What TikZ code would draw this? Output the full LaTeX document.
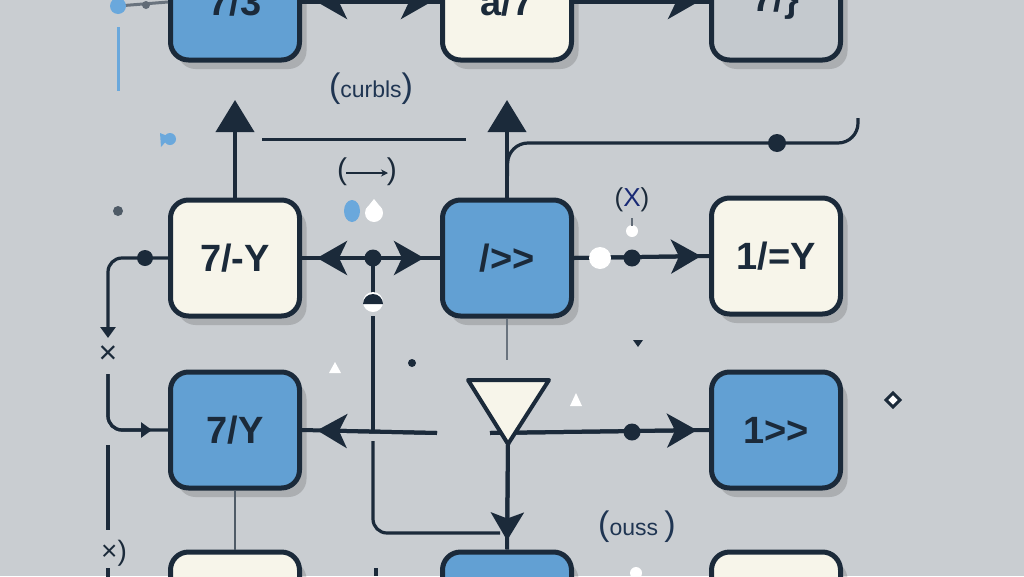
\documentclass[tikz,border=0pt]{standalone}
\usepackage{fontspec}
\setmainfont{Liberation Sans}
\usetikzlibrary{arrows.meta,shadows}
\definecolor{bg}{HTML}{C9CDD1}
\definecolor{navy}{HTML}{1B2A3A}
\definecolor{boxblue}{HTML}{62A0D3}
\definecolor{cream}{HTML}{F7F5EA}
\definecolor{boxgray}{HTML}{C4C9CE}
\definecolor{lblue}{HTML}{6AA8DC}
\definecolor{lbltxt}{HTML}{1F3552}
\newcommand{\gt}{>\kern0pt}
\begin{document}
\begin{tikzpicture}[x=1pt,y=-1pt,
  box/.style={draw=navy, line width=5pt, rounded corners=18pt, minimum width=129pt, minimum height=116pt, inner sep=0pt, font=\fontsize{38}{40}\selectfont\bfseries, text=navy, drop shadow={shadow xshift=7pt, shadow yshift=-9pt, opacity=0.15, fill=black}},
  wire/.style={draw=navy, line width=4pt},
  thinwire/.style={draw=navy, line width=3.2pt},
  bigtip/.tip={Stealth[length=30pt,width=34pt,inset=8pt]},
  uptip/.tip={Triangle[length=32pt,width=38pt]},
  smalltip/.tip={Triangle[length=11pt,width=15pt]},
  jdot/.style={circle, fill=navy, minimum size=17pt, inner sep=0pt},
  lbl/.style={text=lbltxt, font=\fontsize{23}{25}\selectfont},
  par/.style={font=\fontsize{30}{32}\selectfont, text=navy}
]
\fill[bg] (0,0) rectangle (1024,576);
\useasboundingbox (0,0) rectangle (1024,576);

% ---------- boxes ----------
\node[box, fill=boxblue] (B1) at (235,2) {7/3};
\node[box, fill=cream]   (B2) at (507,2) {a/7};
\node[box, fill=boxgray] (B3) at (776,2) {7/\}};
\node[box, fill=cream]   (B4) at (235,258) {7/-Y};
\node[box, fill=boxblue] (B5) at (507,258) {/\gt\gt};
\node[box, fill=cream]   (B6) at (776,256) {1/=Y};
\node[box, fill=boxblue] (B7) at (235,430) {7/Y};
\node[box, fill=boxblue] (B8) at (776,430) {1\gt\gt};
\node[box, fill=cream]   (B9) at (235,610) {};
\node[box, fill=boxblue] (B10) at (507,610) {};
\node[box, fill=cream]   (B11) at (776,610) {};

% ---------- top row ----------
\draw[wire] (B1.east) -- (B2.west);
\draw[wire, {bigtip}-{bigtip}, shorten <=15pt, shorten >=9pt] (B1.east) -- (B2.west);
\draw[wire] (B2.east) -- (B3.west);
\draw[wire, -{bigtip}, shorten >=11pt] (B2.east) -- (B3.west);

% top-left marks
\coordinate (TLd) at (118,6);
\draw[line width=3pt, draw=navy!55!bg] (TLd) -- (B1.west);
\fill[navy!60!bg] (146,5) circle (4);
\fill[lblue] (TLd) circle (8);
\draw[line width=3pt, draw=lblue] (118,27) -- (118,91);

% ---------- up arrows ----------
\coordinate (U4) at (235,100);
\coordinate (U5) at (507,100);
\draw[wire, -{uptip}] (B4.north) -- (U4);
\draw[wire, -{uptip}] (B5.north) -- (U5);

% loop from B5 to the right
\coordinate (C1) at (508,143);
\coordinate (C2) at (858,143);
\coordinate (C3) at (858,118);
\draw[thinwire, rounded corners=20pt] (B5.north) -- (C1) -- (C2) -- (C3);
\node[jdot, minimum size=18pt] (Cd) at (777,143) {};

% thin horizontal line
\coordinate (H1) at (262,139);
\coordinate (H2) at (466,139);
\draw[line width=3pt, draw=navy] (H1) -- (H2);

% labels
\node[lbl] (lab1) at (371,89) {{\fontsize{34}{36}\selectfont(}curbls{\fontsize{34}{36}\selectfont)}};
\node[par] (lab2) at (367,172) {(\hspace{40pt})};
\coordinate (A1) at (346,173);
\coordinate (A2) at (388,173);
\draw[line width=2.6pt, draw=navy, -{Stealth[length=7pt,width=7pt]}] (A1) -- (A2);
\node[par, font=\fontsize{26}{28}\selectfont] (lab3) at (632,200) {(\textcolor{lbltxt!80!blue}{X})};
\node[lbl] (lab4) at (637,527) {{\fontsize{34}{36}\selectfont(}ouss {\fontsize{34}{36}\selectfont)}};
\node[text=navy, font=\fontsize{32}{34}\selectfont] (lab5) at (108,355) {×};
\node[text=navy, font=\fontsize{28}{30}\selectfont] (lab6) at (114,553) {×)};

% ---------- middle row ----------
\coordinate (J) at (373,258);
\draw[wire] (B4.east) -- (B5.west);
\draw[wire, {bigtip}-{bigtip}, shorten <=15pt, shorten >=16pt] (B4.east) -- (B5.west);
\coordinate (J2) at (373,294);
\coordinate (J3) at (373,316);
\coordinate (J4) at (373,433);
\draw[thinwire] (J) -- (J2);
\draw[thinwire] (J3) -- (J4);
\node[jdot] (Jd) at (J) {};
\fill[white] (373,302) circle (10);
\fill[navy] (363,304) arc[start angle=180, end angle=360, radius=10] -- cycle;

% left loop
\coordinate (L1) at (108,258);
\coordinate (L2) at (108,338);
\draw[thinwire, rounded corners=14pt, -{smalltip}] (B4.west) -- (L1) -- (L2);
\node[jdot, minimum size=16pt] (Ld) at (145,258) {};
\coordinate (L3) at (108,374);
\coordinate (L4) at (108,430);
\draw[thinwire, rounded corners=14pt] (L3) -- (L4) -- (B7.west);
\draw[thinwire, rounded corners=14pt, -{smalltip}, shorten >=16pt] (L3) -- (L4) -- (B7.west);
\coordinate (L5) at (108,445);
\coordinate (L6) at (108,530);
\draw[thinwire] (L5) -- (L6);
\coordinate (L7) at (108,568);
\coordinate (L8) at (108,580);
\draw[thinwire] (L7) -- (L8);

% B5 to B6
\draw[wire] (B5.east) -- (B6.west);
\draw[wire, -{bigtip}, shorten >=8pt] (B5.east) -- (B6.west);
\node[jdot] (Rd) at (632,258) {};
\fill[white] (600,258) circle (11);
\fill[white] (632,231) circle (6);
\draw[line width=1.5pt, draw=navy!60!bg] (632,218) -- (632,226);

% ---------- third row ----------
\coordinate (M1) at (437,433);
\draw[wire] (M1) -- (B7.east);
\draw[wire, -{bigtip}, shorten >=15pt] (M1) -- (B7.east);
\coordinate (M2) at (490,433);
\draw[wire] (M2) -- (B8.west);
\draw[wire, -{bigtip}, shorten >=12pt] (M2) -- (B8.west);
\node[jdot] (Md) at (632,432) {};

% lower loop from J
\coordinate (K1) at (373,441);
\coordinate (K2) at (373,533);
\coordinate (K3) at (500,533);
\draw[thinwire, rounded corners=14pt] (K1) -- (K2) -- (K3);

% triangle
\coordinate (T) at (508,444);
\draw[line width=4pt, draw=navy, fill=cream, line join=round] (468,380) -- (549,380) -- (T) -- cycle;
\draw[wire] (T) -- (B10.north);
\draw[wire, -{Stealth[length=28pt,width=33pt,inset=6pt]}, shorten >=9pt] (T) -- (B10.north);

% thin links
\coordinate (P1) at (507,360);
\draw[line width=2pt, draw=navy!55!bg] (B5.south) -- (P1);
\draw[line width=2.5pt, draw=navy!70!bg] (B7.south) -- (B9.north);

% ---------- small marks ----------
\fill[lblue] (170,139) circle (6);
\fill[lblue] (160,133) -- (170,137) -- (161,147) -- cycle;
\fill[navy!70!bg] (118,211) circle (5);
\fill[lblue] (352,211) ellipse (8 and 11);
\fill[white] (374,213) circle (9);
\fill[white] (366,209) -- (374,199) -- (382,209) -- cycle;
\fill[white] (329,373) -- (335,362) -- (341,373) -- cycle;
\fill[navy] (412,363) circle (4);
\fill[white] (570,406) -- (576,393) -- (582,406) -- cycle;
\fill[navy] (633,340) -- (643,340) -- (638,347) -- cycle;
\draw[line width=3pt, draw=navy, fill=white] (893,393) -- (900,400) -- (893,407) -- (886,400) -- cycle;
\fill[white] (636,573) circle (6);
\fill[navy] (374,568) rectangle (378,576);
\end{tikzpicture}
\end{document}
